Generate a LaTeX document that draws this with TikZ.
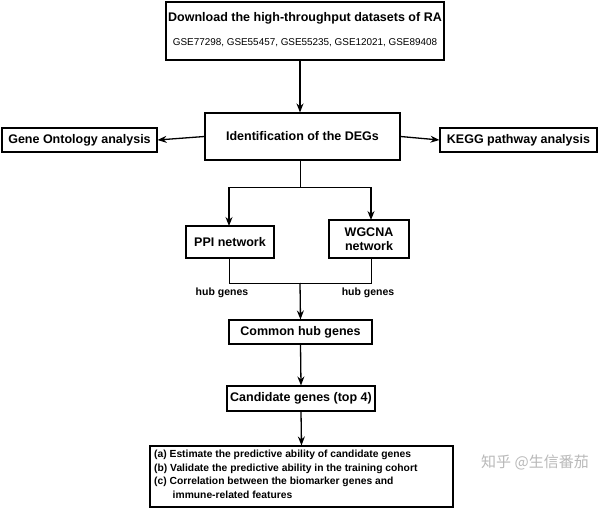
\documentclass[tikz,border=0pt]{standalone}
\usepackage{fontspec}
\setmainfont{Liberation Sans}
\newfontfamily\cjk{Noto Sans CJK SC}
\usetikzlibrary{arrows.meta}
\begin{document}
\begin{tikzpicture}[x=1pt,y=-1pt,
  bx/.style={draw,line width=1.1pt,inner sep=0pt,font=\bfseries\fontsize{12.5}{14}\selectfont},
  ln/.style={line width=1pt},
  ar/.style={line width=1.3pt,-{Stealth[length=9pt,width=7pt]}},
  lab/.style={font=\bfseries\fontsize{10.5}{12}\selectfont}]
\useasboundingbox (0,0) rectangle (600,511);
\fill[white] (0,0) rectangle (600,511);
\node[bx,minimum width=278pt,minimum height=58pt] (top) at (305,31) {};
\node[font=\bfseries\fontsize{12.5}{14}\selectfont] (t1) at (305,18) {Download the high-throughput datasets of RA};
\node[font=\fontsize{9.9}{11}\selectfont] (t2) at (305,43) {GSE77298, GSE55457, GSE55235, GSE12021, GSE89408};
\node[bx,minimum width=195pt,minimum height=47pt] (deg) at (302.5,136.5) {Identification of the DEGs};
\node[bx,minimum width=155pt,minimum height=24pt] (go) at (79.5,140) {Gene Ontology analysis};
\node[bx,minimum width=157pt,minimum height=24pt] (kegg) at (518.5,140) {KEGG pathway analysis};
\draw[ar] (300,60) -- (deg.north -| 300,0);
\draw[ar] (deg.west) -- (go.east);
\draw[ar] (deg.east) -- (kegg.west);
\node[bx,minimum width=88pt,minimum height=32pt] (ppi) at (230,242) {PPI network};
\node[bx,minimum width=80pt,minimum height=38pt,align=center] (wg) at (369,239) {WGCNA\\network};
\coordinate (s) at (300,187);
\draw[ln] (deg.south -| s) -- (s);
\draw[ln] (229,187) -- (371,187);
\draw[ar] (229,187) -- (229,226);
\draw[ar] (371,187) -- (371,220);
\draw[ln] (229,258) -- (229,283) -- (371,283) -- (371,258);
\node[lab] (h1) at (222,293) {hub genes};
\node[lab] (h2) at (368,293) {hub genes};
\node[bx,minimum width=143pt,minimum height=24pt] (com) at (300.5,332) {Common hub genes};
\node[bx,minimum width=148pt,minimum height=25pt] (cand) at (301,398.5) {Candidate genes (top 4)};
\draw[ar] (300,283) -- (com.north);
\draw[ar] (com.south) -- (cand.north);
\node[draw,line width=1.1pt,minimum width=303pt,minimum height=61pt] (bot) at (301.5,476.5) {};
\node[anchor=north west,align=left,inner sep=0pt,font=\bfseries\fontsize{10.3}{13.5}\selectfont] (bt) at (154,450)
{(a) Estimate the predictive ability of candidate genes\\(b) Validate the predictive ability in the training cohort\\(c) Correlation between the biomarker genes and\\\hspace{1.8em}immune-related features};
\draw[ar] (cand.south) -- (bot.north);
\node[text=gray!55,font=\cjk\fontsize{15}{17}\selectfont] (wm) at (535,462) {知乎 @生信番茄};
\end{tikzpicture}
\end{document}
